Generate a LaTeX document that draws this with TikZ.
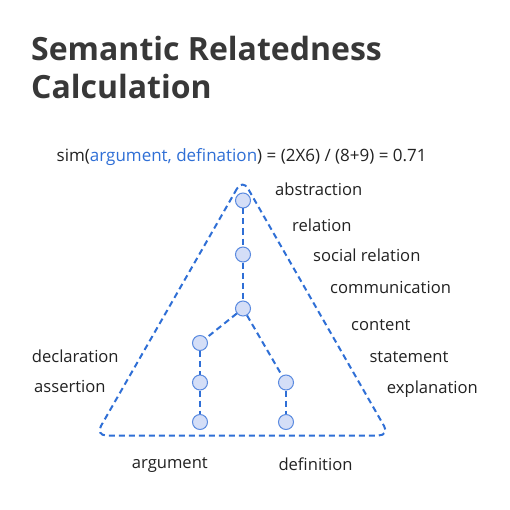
\documentclass[tikz,border=0pt]{standalone}
\usepackage{fontspec}
\setmainfont{Open Sans}
\definecolor{lineblue}{HTML}{2F6FD6}
\definecolor{nodefill}{HTML}{D4DEF7}
\definecolor{nodeedge}{HTML}{5B8BE0}
\definecolor{txt}{HTML}{222222}
\definecolor{titlecol}{HTML}{383838}
\begin{document}
\begin{tikzpicture}[x=1pt,y=-1pt,
  tri/.style={draw=lineblue,line width=2pt,dash pattern=on 6pt off 4pt,rounded corners=11pt},
  conn/.style={draw=lineblue,line width=2pt,dash pattern=on 6pt off 4pt},
  concept/.style={circle,draw=nodeedge,fill=nodefill,line width=1pt,minimum size=15pt,inner sep=0pt},
  lbl/.style={anchor=base west,inner sep=0pt,text=txt,font=\fontsize{16.6}{20}\selectfont},
  ttl/.style={anchor=base west,inner sep=0pt,text=titlecol,font=\fontsize{32}{38}\selectfont\bfseries}]
\useasboundingbox[fill=white] (0,0) rectangle (510,510);
% title
\node[ttl] (t1) at (31,61) {Semantic Relatedness};
\node[ttl] (t2) at (31,98.3) {Calculation};
% formula
\node[lbl,font=\fontsize{17}{20}\selectfont] (sim) at (56.5,161.5) {sim(\textcolor{lineblue}{argument, defination}) = (2X6) / (8+9) = 0.71};
% triangle
\draw[tri] (242.5,179) -- (95.5,435.5) -- (389.5,435.5) -- cycle;
% nodes
\node[concept] (abs) at (243,200.5) {};
\node[concept] (soc) at (243,254.5) {};
\node[concept] (con) at (243,308.5) {};
\node[concept] (dec) at (200,343) {};
\node[concept] (ass) at (200,382.5) {};
\node[concept] (arg) at (200,422) {};
\node[concept] (exp) at (286,382.5) {};
\node[concept] (def) at (286,422) {};
% connectors
\draw[conn] (abs) -- (soc);
\draw[conn] (soc) -- (con);
\draw[conn] (con) -- (dec);
\draw[conn] (dec) -- (ass);
\draw[conn] (ass) -- (arg);
\draw[conn] (con) -- (exp);
\draw[conn] (exp) -- (def);
% labels
\node[lbl] (l1) at (275,195.5) {abstraction};
\node[lbl] (l2) at (292,231) {relation};
\node[lbl] (l3) at (313,261) {social relation};
\node[lbl] (l4) at (330,293.3) {communication};
\node[lbl] (l5) at (351,330) {content};
\node[lbl] (l6) at (369.3,362.7) {statement};
\node[lbl] (l7) at (386.7,393.3) {explanation};
\node[lbl] (l8) at (31.7,362.3) {declaration};
\node[lbl] (l9) at (34,392.3) {assertion};
\node[lbl] (l10) at (131.7,468.3) {argument};
\node[lbl] (l11) at (278.3,470.7) {definition};
\end{tikzpicture}
\end{document}
